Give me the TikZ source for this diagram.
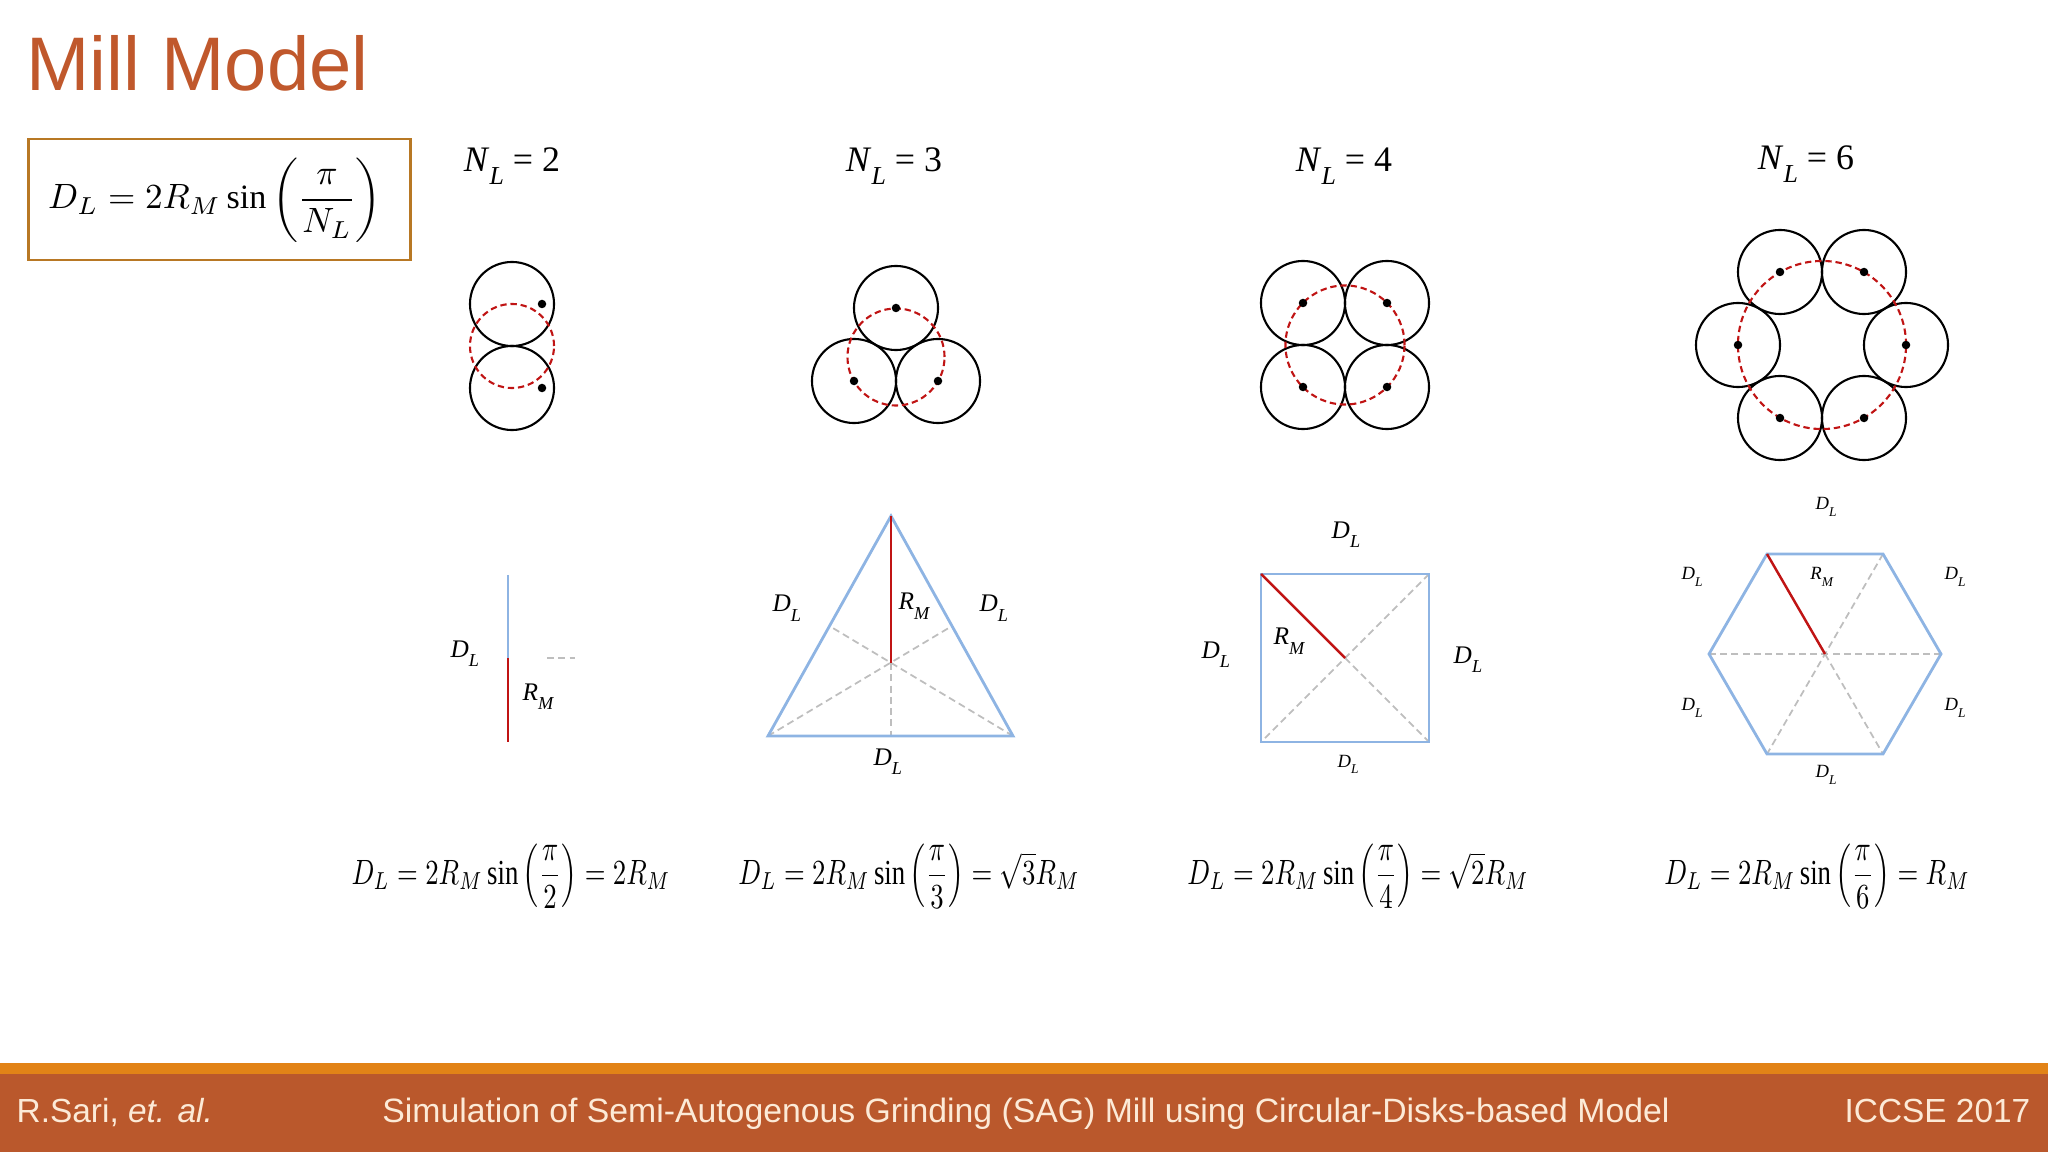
\documentclass[tikz,border=0pt]{standalone}
\usepackage{fontspec}
\usepackage{amsmath}
\usepackage{graphicx}
\setmainfont{Liberation Serif}
\newfontfamily\arialfont{Liberation Sans}
\definecolor{titrebrun}{RGB}{192,88,44}
\definecolor{cadre}{RGB}{184,120,36}
\definecolor{rouge}{RGB}{192,20,20}
\definecolor{bleu}{RGB}{142,180,227}
\definecolor{gris}{RGB}{190,190,190}
\definecolor{bandeorange}{RGB}{226,131,23}
\definecolor{bandebrun}{RGB}{186,88,44}
\definecolor{creme}{RGB}{252,234,215}
\newcommand{\lbl}[2]{\textit{#1}\raisebox{-0.36em}{\scalebox{0.72}{\textit{#2}}}}
\newcommand{\serre}[1]{\scalebox{0.76}[1]{#1}}
\begin{document}
\begin{tikzpicture}[x=0.01cm,y=-0.01cm]
    \tikzstyle{disque}=[circle,draw,line width=0.6pt,minimum size=0.84cm,inner sep=0pt]
    \tikzstyle{orbite}=[circle,draw=rouge,line width=0.6pt,dash pattern=on 1.8pt off 1.1pt,inner sep=0pt]
    \tikzstyle{point}=[circle,fill,inner sep=0pt,minimum size=0.085cm]
    \tikzstyle{bord}=[draw=bleu,line width=0.8pt]
    \tikzstyle{rayon}=[draw=rouge,line width=0.7pt]
    \tikzstyle{axe}=[draw=gris,line width=0.5pt,dash pattern=on 2pt off 1.2pt]
    \tikzstyle{titreN}=[font=\fontsize{10.2}{12}\selectfont,anchor=base,inner sep=0pt]
    \tikzstyle{grand}=[font=\fontsize{7.2}{9}\selectfont,anchor=base west,inner sep=0pt]
    \tikzstyle{petit}=[font=\fontsize{5.3}{7}\selectfont,inner sep=0pt]
    \tikzstyle{formule}=[font=\fontsize{10}{12}\selectfont,inner sep=0pt]
    \useasboundingbox (0,0) rectangle (2048,1152);
    % title and general formula
    \node[anchor=base west,inner sep=0pt,text=titrebrun,font=\arialfont\fontsize{21.6}{25}\selectfont] (titre) at (26,91) {Mill Model};
    \node[draw=cadre,line width=0.8pt,minimum width=3.81cm,minimum height=1.21cm,inner sep=0pt] (boite) at (219.5,199.5) {};
    \node[font=\fontsize{9.7}{12}\selectfont,inner sep=0pt] (general) at (215,200) {$D_L = 2R_M\sin\left(\dfrac{\pi}{N_L}\right)$};
    % headings
    \node[titreN] (n2) at (512,172) {\lbl{N}{L} = 2};
    \node[titreN] (n3) at (894,172) {\lbl{N}{L} = 3};
    \node[titreN] (n4) at (1344,172) {\lbl{N}{L} = 4};
    \node[titreN] (n6) at (1806,170) {\lbl{N}{L} = 6};
    % disks, N_L = 2
    \node[disque] (a1) at (512,304) {};
    \node[disque] (a2) at (512,388) {};
    \node[orbite,minimum size=0.84cm] (oa) at (512,346) {};
    \node[point] (pa1) at (542,304) {};
    \node[point] (pa2) at (542,388) {};
    % disks, N_L = 3
    \node[disque] (b1) at (896,308) {};
    \node[disque] (b2) at (854,381) {};
    \node[disque] (b3) at (938,381) {};
    \node[orbite,minimum size=0.97cm] (ob) at (896,357) {};
    \node[point] (pb1) at (896,308) {};
    \node[point] (pb2) at (854,381) {};
    \node[point] (pb3) at (938,381) {};
    % disks, N_L = 4
    \node[disque] (c1) at (1303,303) {};
    \node[disque] (c2) at (1387,303) {};
    \node[disque] (c3) at (1303,387) {};
    \node[disque] (c4) at (1387,387) {};
    \node[orbite,minimum size=1.19cm] (oc) at (1345,345) {};
    \node[point] (pc1) at (1303,303) {};
    \node[point] (pc2) at (1387,303) {};
    \node[point] (pc3) at (1303,387) {};
    \node[point] (pc4) at (1387,387) {};
    % disks, N_L = 6
    \node[disque] (d1) at (1906,345) {};
    \node[disque] (d2) at (1864,272) {};
    \node[disque] (d3) at (1780,272) {};
    \node[disque] (d4) at (1738,345) {};
    \node[disque] (d5) at (1780,418) {};
    \node[disque] (d6) at (1864,418) {};
    \node[orbite,minimum size=1.68cm] (od) at (1822,345) {};
    \node[point] (pd1) at (1906,345) {};
    \node[point] (pd2) at (1864,272) {};
    \node[point] (pd3) at (1780,272) {};
    \node[point] (pd4) at (1738,345) {};
    \node[point] (pd5) at (1780,418) {};
    \node[point] (pd6) at (1864,418) {};
    % segment, N_L = 2
    \coordinate (s1) at (508,575);
    \coordinate (s0) at (508,658);
    \coordinate (s2) at (508,742);
    \coordinate (g1) at (547,658);
    \coordinate (g2) at (575,658);
    \draw[bord] (s1) -- (s0);
    \draw[rayon] (s0) -- (s2);
    \draw[axe] (g1) -- (g2);
    \node[grand] (ls1) at (450,657) {\lbl{D}{L}};
    \node[grand] (ls2) at (522,700) {\lbl{R}{M}};
    % triangle, N_L = 3
    \coordinate (t1) at (891,516);
    \coordinate (t2) at (768,736);
    \coordinate (t3) at (1013,736);
    \coordinate (t0) at (891,663);
    \coordinate (m1) at (891,736);
    \coordinate (m2) at (952,626);
    \coordinate (m3) at (829.5,626);
    \draw[axe] (t2) -- (m2);
    \draw[axe] (t3) -- (m3);
    \draw[axe] (t0) -- (m1);
    \draw[bord] (t1) -- (t2) -- (t3) -- cycle;
    \draw[rayon] (t1) -- (t0);
    \node[grand] (lt1) at (772,612) {\lbl{D}{L}};
    \node[grand] (lt2) at (898,610) {\lbl{R}{M}};
    \node[grand] (lt3) at (979,612) {\lbl{D}{L}};
    \node[grand] (lt4) at (873,765) {\lbl{D}{L}};
    % square, N_L = 4
    \coordinate (q1) at (1261,574);
    \coordinate (q2) at (1429,574);
    \coordinate (q3) at (1429,742);
    \coordinate (q4) at (1261,742);
    \coordinate (q0) at (1345,658);
    \draw[axe] (q0) -- (q3);
    \draw[axe] (q2) -- (q4);
    \draw[bord] (q1) -- (q2) -- (q3) -- (q4) -- cycle;
    \draw[rayon] (q1) -- (q0);
    \node[grand] (lq1) at (1331,538) {\lbl{D}{L}};
    \node[grand] (lq2) at (1201,658) {\lbl{D}{L}};
    \node[grand] (lq3) at (1273,645) {\lbl{R}{M}};
    \node[grand] (lq4) at (1453,663) {\lbl{D}{L}};
    \node[petit,anchor=base west] (lq5) at (1337,767) {\lbl{D}{L}};
    % hexagon, N_L = 6
    \coordinate (h1) at (1941,654);
    \coordinate (h2) at (1883,554);
    \coordinate (h3) at (1767,554);
    \coordinate (h4) at (1709,654);
    \coordinate (h5) at (1767,754);
    \coordinate (h6) at (1883,754);
    \coordinate (h0) at (1825,654);
    \draw[axe] (h1) -- (h4);
    \draw[axe] (h2) -- (h5);
    \draw[axe] (h0) -- (h6);
    \draw[bord] (h1) -- (h2) -- (h3) -- (h4) -- (h5) -- (h6) -- cycle;
    \draw[rayon] (h3) -- (h0);
    \node[petit] (lh1) at (1826,507) {\lbl{D}{L}};
    \node[petit] (lh2) at (1692,577) {\lbl{D}{L}};
    \node[petit] (lh3) at (1822,577) {\lbl{R}{M}};
    \node[petit] (lh4) at (1955,577) {\lbl{D}{L}};
    \node[petit] (lh5) at (1692,708) {\lbl{D}{L}};
    \node[petit] (lh6) at (1955,708) {\lbl{D}{L}};
    \node[petit] (lh7) at (1826,775) {\lbl{D}{L}};
    % results
    \node[formule] (f2) at (511,876) {\serre{$D_L = 2R_M\sin\left(\dfrac{\pi}{2}\right) = 2R_M$}};
    \node[formule] (f3) at (909,876) {\serre{$D_L = 2R_M\sin\left(\dfrac{\pi}{3}\right) = \sqrt{3}R_M$}};
    \node[formule] (f4) at (1358,876) {\serre{$D_L = 2R_M\sin\left(\dfrac{\pi}{4}\right) = \sqrt{2}R_M$}};
    \node[formule] (f6) at (1817,876) {\serre{$D_L = 2R_M\sin\left(\dfrac{\pi}{6}\right) = R_M$}};
    % footer
    \fill[bandeorange] (0,1063) rectangle (2048,1074);
    \fill[bandebrun] (0,1074) rectangle (2048,1152);
    \node[anchor=base west,inner sep=0pt,text=creme,font=\arialfont\fontsize{9.5}{11}\selectfont] (auteur) at (16,1122) {R.Sari, \textit{et. al.}};
    \node[anchor=base,inner sep=0pt,text=creme,font=\arialfont\fontsize{9.6}{11}\selectfont] (sujet) at (1026,1122) {Simulation of Semi-Autogenous Grinding (SAG) Mill using Circular-Disks-based Model};
    \node[anchor=base east,inner sep=0pt,text=creme,font=\arialfont\fontsize{9.5}{11}\selectfont] (conf) at (2031,1122) {ICCSE 2017};
\end{tikzpicture}
\end{document}
